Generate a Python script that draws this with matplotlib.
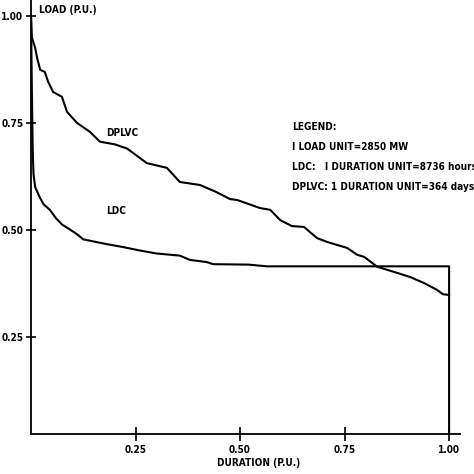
import matplotlib
matplotlib.use("Agg")
import matplotlib.pyplot as plt

plt.rcParams["font.family"] = ["DejaVu Sans"]
plt.rcParams["font.stretch"] = "condensed"
plt.rcParams["font.weight"] = "bold"
plt.rcParams["axes.labelweight"] = "bold"

# load duration curve (per unit)
ldc_x = [0, 0.002, 0.004, 0.006, 0.01, 0.02, 0.03, 0.045, 0.06, 0.075, 0.09, 0.11,
         0.125, 0.14, 0.18, 0.22, 0.26, 0.30, 0.356, 0.38, 0.42, 0.436, 0.52, 0.564,
         0.70, 1.0, 1.0]
ldc_y = [1.0, 0.83, 0.69, 0.63, 0.60, 0.578, 0.56, 0.547, 0.527, 0.512, 0.503, 0.49,
         0.478, 0.475, 0.467, 0.46, 0.452, 0.445, 0.44, 0.43, 0.425, 0.42, 0.419, 0.415,
         0.415, 0.415, 0.0]

# daily peak load variation curve (per unit)
dplvc_x = [0, 0.002, 0.01, 0.015, 0.022, 0.033, 0.041, 0.053, 0.074, 0.086, 0.11,
           0.141, 0.165, 0.20, 0.23, 0.277, 0.325, 0.356, 0.404, 0.44, 0.476, 0.493,
           0.548, 0.572, 0.596, 0.624, 0.653, 0.684, 0.708, 0.756, 0.78, 0.797, 0.828,
           0.868, 0.907, 0.94, 0.971, 0.985, 1.0]
dplvc_y = [1.0, 0.95, 0.925, 0.90, 0.874, 0.869, 0.846, 0.822, 0.811, 0.776, 0.75,
           0.729, 0.706, 0.70, 0.69, 0.656, 0.645, 0.612, 0.605, 0.59, 0.572, 0.570,
           0.551, 0.547, 0.523, 0.509, 0.507, 0.481, 0.472, 0.458, 0.442, 0.437, 0.414,
           0.402, 0.39, 0.376, 0.36, 0.35, 0.348]

ticks = [0.25, 0.50, 0.75, 1.00]
tick_labels = ["0.25", "0.50", "0.75", "1.00"]

legend_lines = ["LEGEND:",
                "I LOAD UNIT=2850 MW",
                "LDC:   I DURATION UNIT=8736 hours",
                "DPLVC: 1 DURATION UNIT=364 days"]

fig = plt.figure(figsize=(4.74, 4.74), dpi=100)
ax = fig.add_axes([0.0654, 0.0844, 0.905, 0.9156])

ax.plot(ldc_x, ldc_y, color="black", lw=1.5)
ax.plot(dplvc_x, dplvc_y, color="black", lw=1.5)

ax.set_xlim(0, 1.026)
ax.set_ylim(0.0234, 1.037)

for s in ["top", "right"]:
    ax.spines[s].set_visible(False)
for s in ["left", "bottom"]:
    ax.spines[s].set_linewidth(1.3)

ax.set_xticks(ticks)
ax.set_xticklabels(tick_labels)
ax.set_yticks(ticks)
ax.set_yticklabels(tick_labels)
ax.tick_params(axis="x", direction="inout", length=10, width=1.2, labelsize=7.2, pad=3)
ax.tick_params(axis="y", direction="inout", length=7, width=1.2, labelsize=7.2, pad=2)

ax.text(0.018, 1.013, "LOAD (P.U.)", fontsize=7.2, va="center", ha="left")
ax.set_xlabel("DURATION (P.U.)", fontsize=7.2)
ax.xaxis.set_label_coords(0.531, -0.055)

ax.text(0.18, 0.727, "DPLVC", fontsize=7.2, va="center")
ax.text(0.18, 0.544, "LDC", fontsize=7.2, va="center")

for i, line in enumerate(legend_lines):
    ax.text(0.624, 0.741 - i * 0.047, line, fontsize=7.2, va="center", clip_on=False)

fig.savefig("out.png", dpi=100)
